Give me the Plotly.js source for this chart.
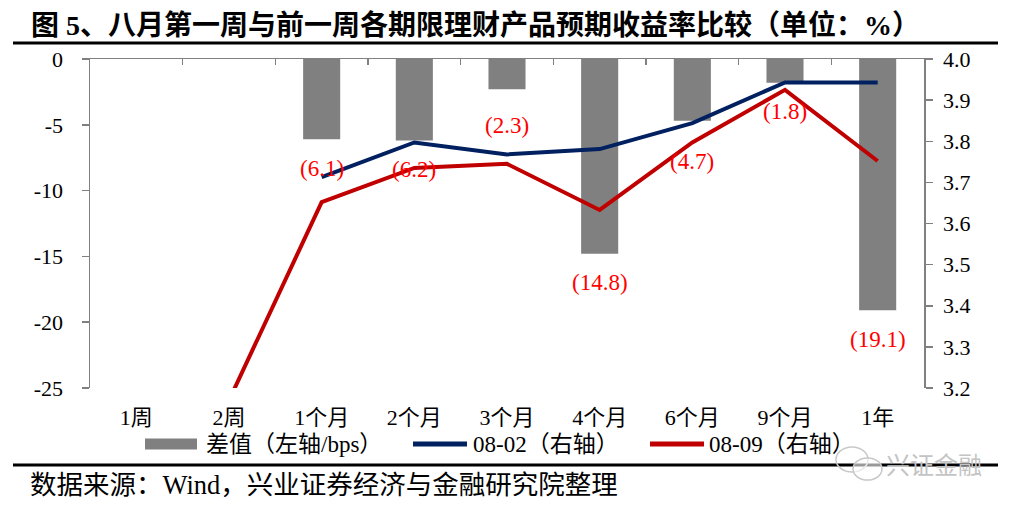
<!DOCTYPE html>
<html>
<head>
<meta charset="utf-8">
<script src="https://cdn.plot.ly/plotly-3.0.1.min.js"></script>
<style>html,body{margin:0;padding:0;background:#fff;}#chart{width:1016px;height:507px;}</style>
</head>
<body>
<div id="chart"></div>
<script>
// ---- data ----
const categories = ['1周', '2周', '1个月', '2个月', '3个月', '4个月', '6个月', '9个月', '1年'];
const diffBps = [null, null, -6.1, -6.2, -2.3, -14.8, -4.7, -1.8, -19.1];
const yield0802 = [null, null, 3.713, 3.797, 3.768, 3.781, 3.844, 3.943, 3.943];
const yield0809 = [null, 3.17, 3.652, 3.735, 3.745, 3.633, 3.797, 3.925, 3.752];
const leftTickVals = [0, -5, -10, -15, -20, -25];
const leftTickText = ['0', '-5', '-10', '-15', '-20', '-25'];
const rightTickVals = [3.2, 3.3, 3.4, 3.5, 3.6, 3.7, 3.8, 3.9, 4.0];
const rightTickText = ['3.2', '3.3', '3.4', '3.5', '3.6', '3.7', '3.8', '3.9', '4.0'];
const seriesNames = ['差值（左轴/bps）', '08-02（右轴）', '08-09（右轴）'];
const titleText = '图 5、八月第一周与前一周各期限理财产品预期收益率比较（单位：%）';
const sourceText = '数据来源：Wind，兴业证券经济与金融研究院整理';
const watermarkText = '兴证金融';

// ---- style / layout ----
const W = 1016, H = 507;
const M = {l: 90, r: 92, t: 59, b: 119};
const PW = W - M.l - M.r, PH = H - M.t - M.b;
const px = x => (x - M.l) / PW;
const py = y => (H - M.b - y) / PH;
const FONT = '"Liberation Serif", "Times New Roman", "Noto Sans CJK SC", serif';
const GRAY = '#808080', NAVY = '#002060', RED = '#C00000';

const bars = {
  type: 'bar', x: categories, y: diffBps, name: seriesNames[0],
  marker: {color: GRAY}, xaxis: 'x', yaxis: 'y', showlegend: false, hoverinfo: 'x+y'
};
const line1 = {
  type: 'scatter', mode: 'lines', x: categories, y: yield0802, name: seriesNames[1],
  line: {color: NAVY, width: 4}, xaxis: 'x2', yaxis: 'y2', showlegend: false, connectgaps: false
};
const line2 = {
  type: 'scatter', mode: 'lines', x: categories, y: yield0809, name: seriesNames[2],
  line: {color: RED, width: 4}, xaxis: 'x2', yaxis: 'y2', showlegend: false, connectgaps: false
};

const labelNudge = {'3个月': -7, '6个月': -12};
const annotations = [];
categories.forEach((c, i) => {
  const v = diffBps[i];
  if (v === null) return;
  annotations.push({
    x: c, y: v, xref: 'x', yref: 'y', showarrow: false,
    text: '(' + Math.abs(v).toFixed(1) + ')', yanchor: 'middle',
    yshift: -29 + (labelNudge[c] || 0),
    font: {family: FONT, size: 23, color: '#FF0000'}
  });
});

// manual legend
const legendY = 444;
const legendItems = [
  {kind: 'rect', x0: 145, x1: 197, tx: 204, color: GRAY, name: seriesNames[0]},
  {kind: 'line', x0: 413, x1: 467, tx: 471, color: NAVY, name: seriesNames[1]},
  {kind: 'line', x0: 650, x1: 704, tx: 707, color: RED, name: seriesNames[2]}
];
const shapes = [
  {type: 'line', xref: 'paper', yref: 'paper', x0: px(13), x1: px(998), y0: py(43), y1: py(43), line: {color: '#000', width: 3}},
  {type: 'line', xref: 'paper', yref: 'paper', x0: px(13), x1: px(998), y0: py(465), y1: py(465), line: {color: '#000', width: 3}},
  // watermark bubbles
  {type: 'circle', xref: 'paper', yref: 'paper', x0: px(836), x1: px(868), y0: py(447), y1: py(472), line: {color: '#c8c8c8', width: 1.5}},
  {type: 'circle', xref: 'paper', yref: 'paper', x0: px(853), x1: px(882), y0: py(458), y1: py(480), line: {color: '#c8c8c8', width: 1.5}, fillcolor: 'rgba(255,255,255,0.6)'}
];
legendItems.forEach(it => {
  if (it.kind === 'rect') {
    shapes.push({type: 'rect', xref: 'paper', yref: 'paper', x0: px(it.x0), x1: px(it.x1),
      y0: py(legendY - 5.5), y1: py(legendY + 5.5), fillcolor: it.color, line: {width: 0}});
  } else {
    shapes.push({type: 'line', xref: 'paper', yref: 'paper', x0: px(it.x0), x1: px(it.x1),
      y0: py(legendY), y1: py(legendY), line: {color: it.color, width: 5}});
  }
  annotations.push({xref: 'paper', yref: 'paper', x: px(it.tx), y: py(legendY), xanchor: 'left', yanchor: 'middle',
    showarrow: false, text: it.name, font: {family: FONT, size: 23, color: '#000'}});
});
annotations.push({xref: 'paper', yref: 'paper', x: px(28), y: py(485), xanchor: 'left', yanchor: 'middle',
  showarrow: false, text: sourceText, font: {family: FONT, size: 26.5, color: '#000'}});
annotations.push({xref: 'paper', yref: 'paper', x: px(884), y: py(463), xanchor: 'left', yanchor: 'middle',
  showarrow: false, text: watermarkText, font: {family: '"Noto Sans CJK SC", sans-serif', size: 24, color: '#c4c4c4'}});

const layout = {
  width: W, height: H,
  margin: M,
  paper_bgcolor: '#fff', plot_bgcolor: '#fff',
  showlegend: false,
  bargap: 0.6,
  title: {
    text: '<b>' + titleText + '</b>', xref: 'container', yref: 'container',
    x: 31 / W, xanchor: 'left', y: 1 - 25 / H, yanchor: 'middle',
    font: {family: FONT, size: 28, color: '#000'}
  },
  xaxis: {
    type: 'category', categoryorder: 'array', categoryarray: categories, range: [-0.5, 8.5],
    showline: false, ticks: '', showgrid: false, zeroline: false,
    tickfont: {family: FONT, size: 22, color: '#000'}, ticklabelstandoff: 14
  },
  xaxis2: {
    type: 'category', categoryorder: 'array', categoryarray: categories, range: [-0.5, 8.5],
    overlaying: 'x', side: 'top', anchor: 'y2',
    showline: true, linecolor: GRAY, linewidth: 1.5,
    ticks: 'inside', tickson: 'boundaries', ticklen: 6, tickcolor: GRAY, tickwidth: 1.5,
    showticklabels: false, showgrid: false, zeroline: false
  },
  yaxis: {
    range: [-25, 0], tickvals: leftTickVals, ticktext: leftTickText,
    showline: true, linecolor: GRAY, linewidth: 1.5, ticks: 'outside', ticklen: 7, tickcolor: GRAY, tickwidth: 1.5,
    showgrid: false, zeroline: false, tickfont: {family: FONT, size: 22, color: '#000'}, ticklabelstandoff: 14
  },
  yaxis2: {
    range: [3.2, 4.0], tickvals: rightTickVals, ticktext: rightTickText,
    overlaying: 'y', side: 'right', anchor: 'x2',
    showline: true, linecolor: GRAY, linewidth: 1.5, ticks: 'outside', ticklen: 7, tickcolor: GRAY, tickwidth: 1.5,
    showgrid: false, zeroline: false, tickfont: {family: FONT, size: 22, color: '#000'}, ticklabelstandoff: 6
  },
  shapes: shapes,
  annotations: annotations
};

Plotly.newPlot('chart', [bars, line1, line2], layout, {displayModeBar: false, staticPlot: true});
</script>
</body>
</html>
